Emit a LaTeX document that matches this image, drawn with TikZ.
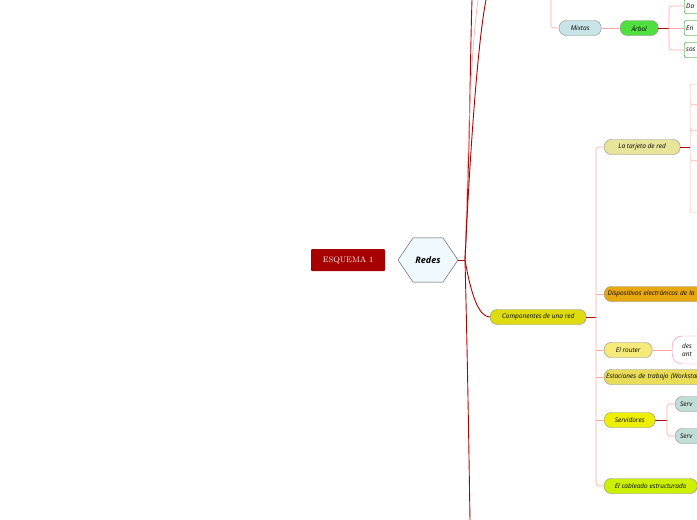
\documentclass[tikz,border=0pt]{standalone}
\usepackage{fontspec}
\setsansfont{Open Sans}
\usetikzlibrary{shapes.geometric}
\definecolor{ctar}{HTML}{E8E49A}
\definecolor{cdis}{HTML}{E8A812}
\definecolor{crou}{HTML}{F5EA7A}
\definecolor{cest}{HTML}{E8DC58}
\definecolor{cser}{HTML}{EEEE00}
\definecolor{ccab}{HTML}{CCF000}
\definecolor{ccom}{HTML}{DEDC10}
\definecolor{cmix}{HTML}{C8E4E6}
\definecolor{carb}{HTML}{4FE040}
\definecolor{csv}{HTML}{C0DDD6}
\begin{document}
\begin{tikzpicture}[x=1pt,y=-1pt,
 pill/.style={draw=black!45,rounded corners=7pt,minimum height=15pt,inner sep=2pt,font=\sffamily\itshape\fontsize{6.5}{7.5}\selectfont,anchor=west},
 sbox/.style={draw,rounded corners=2pt,fill=white,anchor=west,font=\sffamily\itshape\fontsize{6.5}{7.5}\selectfont,inner sep=2pt,align=left},
 br/.style={draw=red!70!black,line width=0.9pt},
 lb/.style={draw=red!35,line width=0.6pt,rounded corners=3pt}]
\useasboundingbox (0,0) rectangle (697,520);
\clip (0,0) rectangle (697,520);
% center
\node[regular polygon,regular polygon sides=6,draw=black!70,fill=cyan!6,minimum width=60pt,inner sep=0pt,yscale=0.85,font=\sffamily\bfseries\itshape\small] (redes) at (428,260) {};
\node[font=\sffamily\bfseries\itshape\small] (rt) at (428,260) {Redes};
\node[fill=red!65!black,text=white,minimum width=74pt,minimum height=22pt,rounded corners=1pt,font=\rmfamily\footnotesize] (esq) at (348,260) {ESQUEMA 1};
\coordinate (hub) at (465,260);
\draw[br] (redes.east) -- (hub);
\draw[br] (hub) .. controls (470,150) and (470,60) .. (472,0);
\draw[lb] (hub) .. controls (468,150) and (470,60) .. (478,0);
\draw[br] (hub) .. controls (470,150) and (478,40) .. (486,0);
\draw[br] (hub) .. controls (468,380) and (469,460) .. (470,520);
\draw[br] (hub) .. controls (472,300) and (480,317) .. (490,317);
% top
\node[pill,fill=cmix,minimum width=42pt] (mix) at (559,28) {Mixtas};
\node[pill,fill=carb,minimum width=38pt] (arb) at (620,28) {Árbol};
\draw[lb] (551,0) |- (mix.west);
\draw[lb] (mix.east) -- (arb.west);
\draw[br] (arb.east) -- (669,28);
\node[sbox,draw=green!50!black,minimum height=15pt,text width=26pt] (a1) at (684,6) {Da};
\node[sbox,draw=green!50!black,minimum height=15pt,text width=26pt] (a2) at (684,28) {En};
\node[sbox,draw=green!50!black,minimum height=15pt,text width=26pt] (a3) at (684,50) {sos};
\draw[lb] (a1.west) -| (669,28) |- (a3.west);
\draw[lb] (669,28) -- (a2.west);
% componentes
\node[pill,fill=ccom,minimum width=96pt] (comp) at (490,317) {Componentes de una red};
\draw[br] (comp.east) -- (596,317);
\node[pill,fill=ctar,minimum width=76pt] (tar) at (604,147) {La tarjeta de red};
\node[pill,fill=cdis,minimum width=125pt,text width=118pt] (dis) at (604,294) {Dispositivos electrónicos de la red};
\node[pill,fill=crou,minimum width=48pt] (rou) at (604,350) {El router};
\node[pill,fill=cest,minimum width=125pt,text width=125pt] (est) at (604,377) {Estaciones de trabajo (Workstation)};
\node[pill,fill=cser,minimum width=51pt] (ser) at (604,420) {Servidores};
\node[pill,fill=ccab,minimum width=93pt] (cab) at (604,486) {El cableado estructurado};
\draw[lb] (tar.west) -| (596,486) -- (cab.west);
\foreach \n in {dis,rou,est,ser} \draw[lb] (596,0 |- \n.west) -- (\n.west);
% tarjeta children
\draw[br] (tar.east) -- (690,147);
\foreach \ya/\yb/\nm in {84/104/t1,104/130/t2,130/160/t3,160/212/t4}
 \node[draw=red!35,rounded corners=2pt,anchor=north west,minimum width=20pt,minimum height={\yb-\ya},inner sep=0pt] (\nm) at (690,\ya) {};
% router child
\draw[lb] (rou.east) -- (672,350);
\node[sbox,draw=magenta!50,rounded corners=10pt,minimum height=28pt,text width=40pt] (rc) at (672,350) {\hspace{8pt}des\\\hspace{8pt}ant};
% servidores children
\draw[br] (ser.east) -- (667,420);
\node[pill,fill=csv,text width=30pt] (s1) at (675,404) {\hspace{3pt}Serv};
\node[pill,fill=csv,text width=30pt] (s2) at (675,436) {\hspace{3pt}Serv};
\draw[lb] (s1.west) -| (667,420) |- (s2.west);
\end{tikzpicture}
\end{document}
